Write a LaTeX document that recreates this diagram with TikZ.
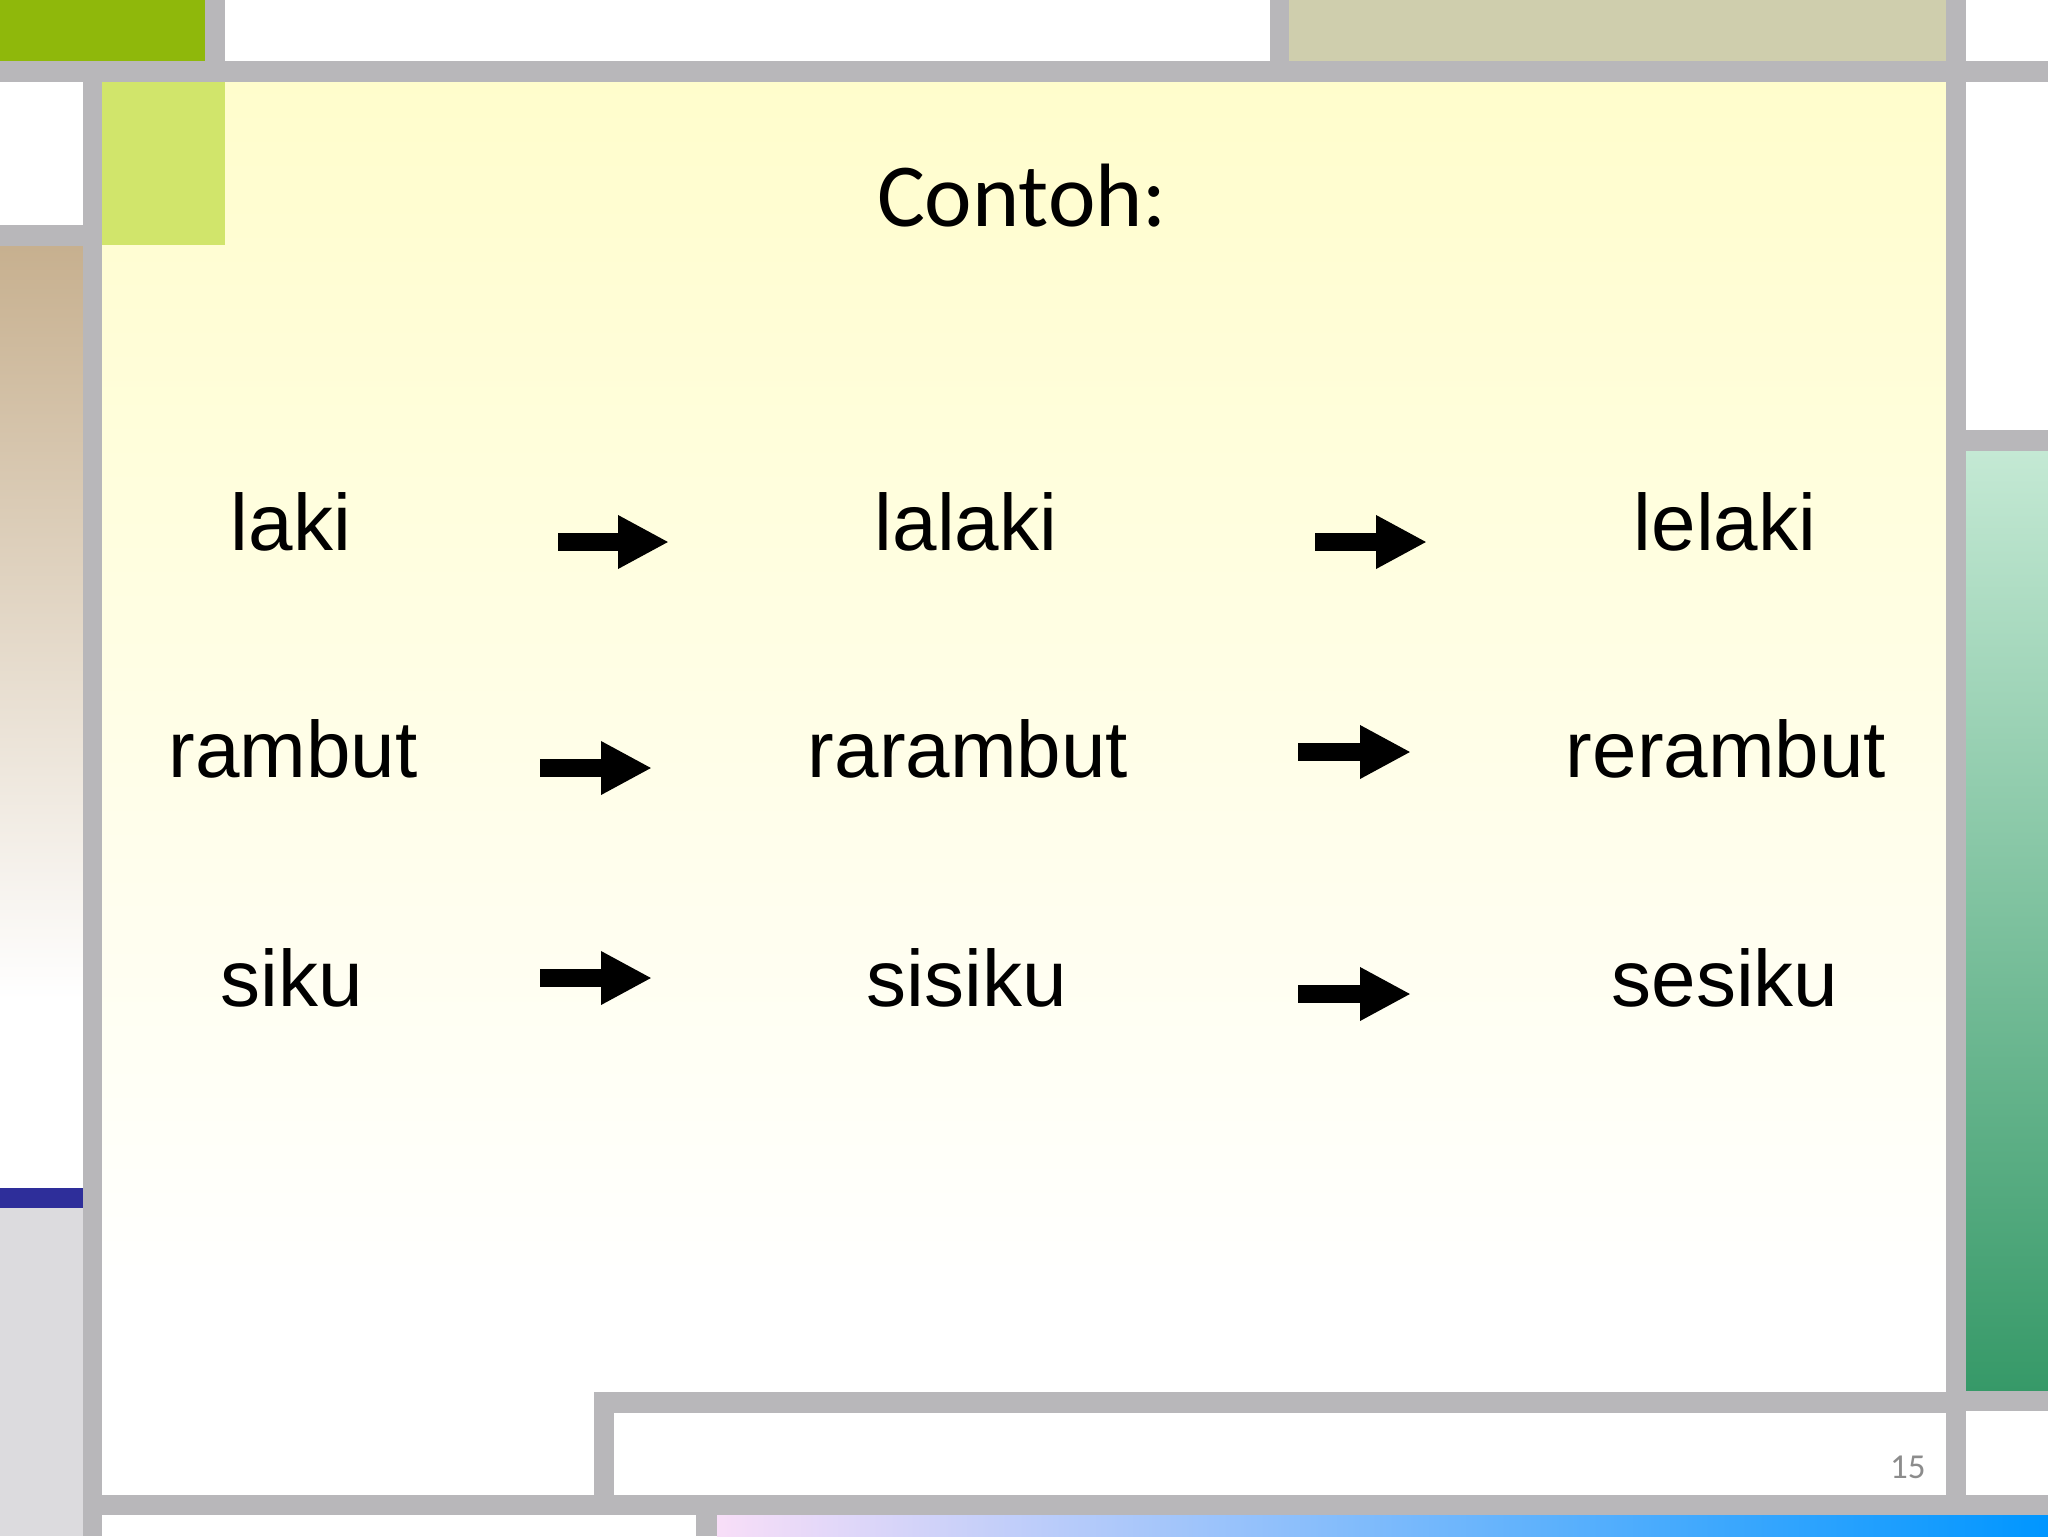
\documentclass[tikz,border=0pt]{standalone}
\usepackage{fontspec}
\setmainfont{Liberation Sans}
\newfontfamily\calib{Carlito}
\usetikzlibrary{arrows.meta}
\definecolor{barg}{RGB}{184,183,186}
\definecolor{leafgreen}{RGB}{143,184,11}
\definecolor{limesq}{RGB}{209,229,107}
\definecolor{olivebox}{RGB}{207,206,173}
\definecolor{paleyel}{RGB}{255,253,204}
\definecolor{tantop}{RGB}{199,176,143}
\definecolor{tanmid}{RGB}{226,218,204}
\definecolor{minttop}{RGB}{196,233,212}
\definecolor{mintbot}{RGB}{54,153,104}
\definecolor{navy}{RGB}{46,46,154}
\definecolor{lgray}{RGB}{220,219,222}
\definecolor{pinkl}{RGB}{248,222,248}
\definecolor{lavm}{RGB}{170,185,248}
\definecolor{skyb}{RGB}{0,150,255}
\definecolor{pagenum}{RGB}{140,140,140}
\tikzset{
  word/.style={anchor=base, inner sep=0pt, font=\fontsize{40}{48}\selectfont, text=black},
  titletext/.style={anchor=base, inner sep=0pt, font=\calib\fontsize{45}{54}\selectfont, text=black},
  pnum/.style={anchor=base east, inner sep=0pt, font=\calib\fontsize{17.5}{20}\selectfont, text=pagenum},
  blockarrow/.style={line width=8.75pt, -{Triangle[length=25.5pt,width=25pt]}, black}
}
\begin{document}
\begin{tikzpicture}[x=0.5pt,y=-0.5pt]
\useasboundingbox (0,0) rectangle (2048,1536);
% background
\fill[white] (0,0) rectangle (2048,1536);
% top blocks
\fill[leafgreen] (0,0) rectangle (205,61);
\fill[olivebox] (1289,0) rectangle (1946,61);
% main slide area
\shade[top color=paleyel, bottom color=white] (102,82) rectangle (1946,1300);
\fill[white] (102,1300) rectangle (1946,1495);
\fill[limesq] (102,82) rectangle (225,245);
% left side blocks
\shade[top color=tantop, middle color=tanmid, bottom color=white] (0,246) rectangle (83,1000);
\fill[navy] (0,1188) rectangle (83,1208);
\fill[lgray] (0,1208) rectangle (83,1536);
% right side green
\shade[top color=minttop, bottom color=mintbot] (1966,451) rectangle (2048,1391);
% bottom strip
\shade[left color=pinkl, middle color=lavm, right color=skyb] (717,1515) rectangle (2048,1536);
% gray bars
\fill[barg] (0,61) rectangle (2048,82);
\fill[barg] (205,0) rectangle (225,61);
\fill[barg] (1270,0) rectangle (1289,61);
\fill[barg] (1946,0) rectangle (1966,1515);
\fill[barg] (83,61) rectangle (102,1536);
\fill[barg] (0,225) rectangle (83,246);
\fill[barg] (1966,430) rectangle (2048,451);
\fill[barg] (1966,1391) rectangle (2048,1411);
\fill[barg] (594,1392) rectangle (1946,1413);
\fill[barg] (594,1392) rectangle (614,1495);
\fill[barg] (83,1495) rectangle (2048,1515);
\fill[barg] (696,1515) rectangle (717,1536);
% title
\node[titletext] (title) at (1022,226) {Contoh:};
% words
\node[word] (w11) at (291,550) {laki};
\node[word] (w12) at (966,550) {lalaki};
\node[word] (w13) at (1725,550) {lelaki};
\node[word] (w21) at (293,777) {rambut};
\node[word] (w22) at (968,777) {rarambut};
\node[word] (w23) at (1726,777) {rerambut};
\node[word] (w31) at (292,1006) {siku};
\node[word] (w32) at (967,1006) {sisiku};
\node[word] (w33) at (1725,1006) {sesiku};
% arrow end points
\coordinate (a11s) at (558,542); \coordinate (a11e) at (669,542);
\coordinate (a12s) at (1315,542); \coordinate (a12e) at (1427,542);
\coordinate (a21s) at (540,768); \coordinate (a21e) at (652,768);
\coordinate (a22s) at (1298,752); \coordinate (a22e) at (1411,752);
\coordinate (a31s) at (540,978); \coordinate (a31e) at (652,978);
\coordinate (a32s) at (1298,994); \coordinate (a32e) at (1411,994);
\draw[blockarrow] (a11s) -- (a11e);
\draw[blockarrow] (a12s) -- (a12e);
\draw[blockarrow] (a21s) -- (a21e);
\draw[blockarrow] (a22s) -- (a22e);
\draw[blockarrow] (a31s) -- (a31e);
\draw[blockarrow] (a32s) -- (a32e);
% page number
\node[pnum] (pg) at (1926,1478) {15};
\end{tikzpicture}
\end{document}
